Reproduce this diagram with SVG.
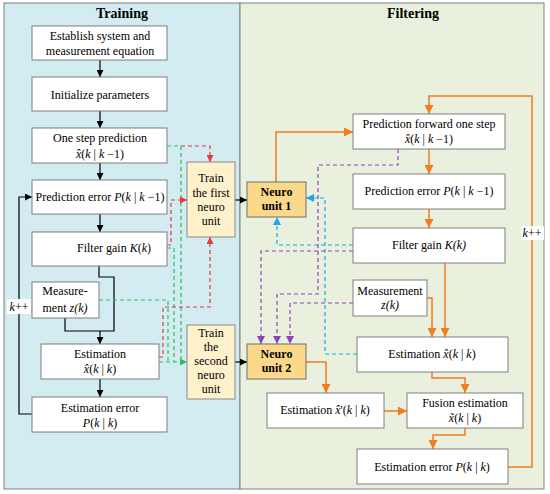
<svg xmlns="http://www.w3.org/2000/svg" width="550" height="494" viewBox="0 0 550 494">
<defs>
<style>
.box{fill:#fff;stroke:#7f7f7f;stroke-width:1}
.tr{fill:#FFF1CC;stroke:#8a8a8a;stroke-width:1}
.nu{fill:#FCD88A;stroke:#6f6f6f;stroke-width:1}
text{font-family:"Liberation Serif","Times New Roman",serif;font-size:12px;fill:#000;text-anchor:middle}
.b{font-weight:bold}
.ttl{font-size:14px;font-weight:bold}
.i{font-style:italic}
.k{fill:none;stroke:#000;stroke-width:1.2}
.o{fill:none;stroke:#F47B20;stroke-width:1.5}
.d{fill:none;stroke-width:1.2;stroke-dasharray:4 3}
.r{stroke:#E83A3A}
.g{stroke:#2EBD59}
.bl{stroke:#1BA8E8}
.p{stroke:#8C44B8}
</style>
<marker id="ak" viewBox="0 0 10 10" refX="10" refY="5" markerWidth="7" markerHeight="7" markerUnits="userSpaceOnUse" orient="auto"><path d="M0,0 L10,5 L0,10 z" fill="#000"/></marker>
<marker id="ao" viewBox="0 0 10 10" refX="10" refY="5" markerWidth="9" markerHeight="9" markerUnits="userSpaceOnUse" orient="auto"><path d="M0,0 L10,5 L0,10 z" fill="#F47B20"/></marker>
<marker id="ar" viewBox="0 0 10 10" refX="10" refY="5" markerWidth="7" markerHeight="7" markerUnits="userSpaceOnUse" orient="auto"><path d="M0,0 L10,5 L0,10 z" fill="#E83A3A"/></marker>
<marker id="ag" viewBox="0 0 10 10" refX="10" refY="5" markerWidth="7" markerHeight="7" markerUnits="userSpaceOnUse" orient="auto"><path d="M0,0 L10,5 L0,10 z" fill="#2EBD59"/></marker>
<marker id="ab" viewBox="0 0 10 10" refX="10" refY="5" markerWidth="8" markerHeight="8" markerUnits="userSpaceOnUse" orient="auto"><path d="M0,0 L10,5 L0,10 z" fill="#1BA8E8"/></marker>
<marker id="ap" viewBox="0 0 10 10" refX="10" refY="5" markerWidth="8" markerHeight="8" markerUnits="userSpaceOnUse" orient="auto"><path d="M0,0 L10,5 L0,10 z" fill="#8C44B8"/></marker>
</defs>

<g id="panels">
<rect x="4" y="3" width="236" height="486" fill="#D3ECF2" stroke="#808080"/>
<rect x="240" y="3" width="304" height="486" fill="#E9F1DE" stroke="#808080"/>
<text class="ttl" x="122" y="18">Training</text>
<text class="ttl" x="413" y="18">Filtering</text>
</g>

<g id="connectors">
<!-- black -->
<path class="k" d="M100,60 V77" marker-end="url(#ak)"/>
<path class="k" d="M100,111 V128" marker-end="url(#ak)"/>
<path class="k" d="M100,163 V180" marker-end="url(#ak)"/>
<path class="k" d="M100,214 V232" marker-end="url(#ak)"/>
<path class="k" d="M99,266 V277 H114 V331 H65 V318"/>
<path class="k" d="M100,331 V344" marker-end="url(#ak)"/>
<path class="k" d="M100,379 V397" marker-end="url(#ak)"/>
<path class="k" d="M32,414 H19 V197 H32" marker-end="url(#ak)"/>
<path class="k" d="M235,200 H247" marker-end="url(#ak)"/>
<path class="k" d="M235,362 H247" marker-end="url(#ak)"/>
<!-- green dashed -->
<path class="d g" d="M167,146 H181 V362"/>
<path class="d g" d="M167,248 H174 V362"/>
<path class="d g" d="M99,300 H168 V362"/>
<path class="d g" d="M159,362 H187" marker-end="url(#ag)"/>
<!-- red dashed -->
<path class="d r" d="M181,146 H210 V162" marker-end="url(#ar)"/>
<path class="d r" d="M167,245 H171 V200 H187" marker-end="url(#ar)"/>
<path class="d r" d="M159,357 H163 V307 H210 V237" marker-end="url(#ar)"/>
<!-- blue dashed -->
<path class="d bl" d="M353,245 H277 V217" marker-end="url(#ab)"/>
<path class="d bl" d="M357,354 H325 V198 H306" marker-end="url(#ab)"/>
<!-- purple dashed -->
<path class="d p" d="M398,149 V165 H318 V294 H277 V344" marker-end="url(#ap)"/>
<path class="d p" d="M353,251 H261 V344" marker-end="url(#ap)"/>
<path class="d p" d="M353,303 H290 V344" marker-end="url(#ap)"/>
<!-- orange -->
<path class="o" d="M276,182 V132 H353" marker-end="url(#ao)"/>
<path class="o" d="M508,467 H532 V96 H429 V114" marker-end="url(#ao)"/>
<path class="o" d="M429,149 V174" marker-end="url(#ao)"/>
<path class="o" d="M429,209 V228" marker-end="url(#ao)"/>
<path class="o" d="M445,263 V337" marker-end="url(#ao)"/>
<path class="o" d="M427,298 H432 V337" marker-end="url(#ao)"/>
<path class="o" d="M432,372 V378 H465 V393" marker-end="url(#ao)"/>
<path class="o" d="M306,362 H326 V393" marker-end="url(#ao)"/>
<path class="o" d="M384,411 H407" marker-end="url(#ao)"/>
<path class="o" d="M465,428 V435 H433 V449" marker-end="url(#ao)"/>
<!-- k++ labels -->
<rect x="7" y="299" width="24" height="15" fill="#fff"/>
<text x="19" y="311"><tspan class="i">k</tspan>++</text>
<rect x="521" y="226" width="23" height="14" fill="#fff"/>
<text x="532" y="237"><tspan class="i">k</tspan>++</text>
</g>

<g id="establish"><rect class="box" x="32" y="26" width="135" height="34"/>
<text x="100" y="40">Establish system and</text><text x="100" y="55">measurement equation</text></g>
<g id="initialize"><rect class="box" x="32" y="77" width="135" height="34"/>
<text x="100" y="99">Initialize parameters</text></g>
<g id="one-step"><rect class="box" x="32" y="128" width="135" height="35"/>
<text x="100" y="142">One step prediction</text>
<text x="100" y="158"><tspan class="i">x̂</tspan>(<tspan class="i">k</tspan> | <tspan class="i">k</tspan> −1)</text></g>
<g id="pred-error-l"><rect class="box" x="32" y="180" width="135" height="34"/>
<text x="100" y="201">Prediction error <tspan class="i">P</tspan>(<tspan class="i">k</tspan> | <tspan class="i">k</tspan> −1)</text></g>
<g id="filter-gain-l"><rect class="box" x="32" y="232" width="135" height="34"/>
<text x="114" y="252">Filter gain  <tspan class="i">K</tspan>(<tspan class="i">k</tspan>)</text></g>
<g id="measurement-l"><rect class="box" x="32" y="282" width="67" height="36"/>
<text x="65" y="295">Measure-</text><text x="65" y="312">ment <tspan class="i">z(k)</tspan></text></g>
<g id="estimation-l"><rect class="box" x="41" y="344" width="118" height="35"/>
<text x="100" y="358">Estimation</text>
<text x="100" y="373"><tspan class="i">x̂</tspan>(<tspan class="i">k</tspan> | <tspan class="i">k</tspan>)</text></g>
<g id="est-error-l"><rect class="box" x="32" y="397" width="135" height="35"/>
<text x="100" y="412">Estimation error</text>
<text x="100" y="427"><tspan class="i">P</tspan>(<tspan class="i">k</tspan> | <tspan class="i">k</tspan>)</text></g>

<g id="train-first"><rect class="tr" x="187" y="162" width="48" height="75"/>
<text x="211" y="182">Train</text><text x="211" y="197">the first</text><text x="211" y="211">neuro</text><text x="211" y="225">unit</text></g>
<g id="train-second"><rect class="tr" x="187" y="325" width="48" height="74"/>
<text x="211" y="337">Train</text><text x="211" y="351">the</text><text x="211" y="365">second</text><text x="211" y="379">neuro</text><text x="211" y="393">unit</text></g>

<g id="neuro1"><rect class="nu" x="247" y="182" width="59" height="35"/>
<text class="b" x="276.5" y="196">Neuro</text><text class="b" x="276.5" y="210">unit 1</text></g>
<g id="neuro2"><rect class="nu" x="247" y="344" width="59" height="35"/>
<text class="b" x="276.5" y="358">Neuro</text><text class="b" x="276.5" y="372">unit 2</text></g>

<g id="pred-forward"><rect class="box" x="353" y="114" width="152" height="35"/>
<text x="429" y="128">Prediction forward one step</text>
<text x="429" y="143"><tspan class="i">x̂</tspan>(<tspan class="i">k</tspan> | <tspan class="i">k</tspan> −1)</text></g>
<g id="pred-error-r"><rect class="box" x="353" y="174" width="152" height="35"/>
<text x="429" y="195">Prediction error <tspan class="i">P</tspan>(<tspan class="i">k</tspan> | <tspan class="i">k</tspan> −1)</text></g>
<g id="filter-gain-r"><rect class="box" x="353" y="228" width="152" height="35"/>
<text x="429" y="249">Filter gain <tspan class="i">K(k)</tspan></text></g>
<g id="measurement-r"><rect class="box" x="353" y="280" width="74" height="36"/>
<text x="390" y="295">Measurement</text><text x="390" y="309" class="i">z(k)</text></g>
<g id="estimation-r"><rect class="box" x="357" y="337" width="151" height="35"/>
<text x="432" y="358">Estimation  <tspan class="i">x̂</tspan>(<tspan class="i">k</tspan> | <tspan class="i">k</tspan>)</text></g>
<g id="estimation-prime"><rect class="box" x="267" y="393" width="117" height="35"/>
<text x="325" y="414">Estimation  <tspan class="i">x̂</tspan>'(<tspan class="i">k</tspan> | <tspan class="i">k</tspan>)</text></g>
<g id="fusion"><rect class="box" x="407" y="393" width="116" height="35"/>
<text x="465" y="407">Fusion estimation</text>
<text x="465" y="422"><tspan class="i">x̃</tspan>(<tspan class="i">k</tspan> | <tspan class="i">k</tspan>)</text></g>
<g id="est-error-r"><rect class="box" x="357" y="449" width="151" height="35"/>
<text x="432" y="471">Estimation error <tspan class="i">P</tspan>(<tspan class="i">k</tspan> | <tspan class="i">k</tspan>)</text></g>
</svg>
